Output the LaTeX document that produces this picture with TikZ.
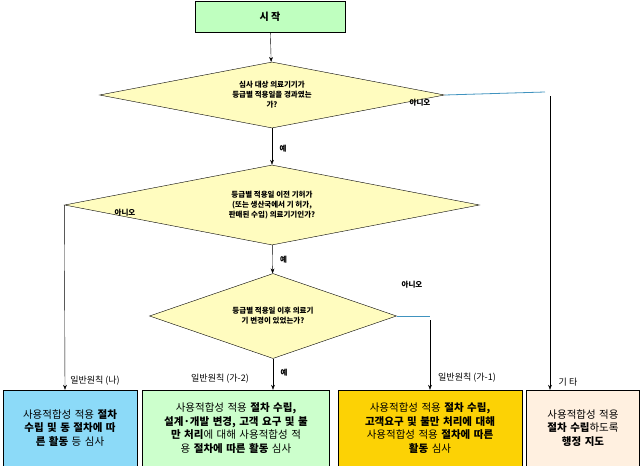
\documentclass[tikz,border=0pt]{standalone}
\usepackage{fontspec}
\setmainfont{Noto Sans CJK KR}
\usetikzlibrary{shapes.geometric,arrows.meta}
\begin{document}
\begin{tikzpicture}[x=1pt,y=-1pt,
    decision/.style={diamond,draw,fill=yellow!25,aspect=2.8,inner sep=1pt,
      align=center,font=\bfseries\fontsize{7.5}{10}\selectfont},
    result/.style={draw,minimum height=76pt,inner sep=2pt,align=center,
      font=\fontsize{10.5}{13.5}\selectfont},
    line/.style={draw,-{Stealth[length=5pt]}},
    branch/.style={draw,blue!35!cyan!50!gray,thick},
    lbl/.style={font=\fontsize{7.5}{9}\selectfont},
    tag/.style={font=\fontsize{9}{11}\selectfont}]
    % 배경
    \useasboundingbox (0,0) rectangle (643,466);
    % 시작
    \node[draw,fill=green!25,minimum width=150pt,minimum height=31pt,
      font=\bfseries\fontsize{10}{12}\selectfont] (start) at (270,17) {시 작};
    % 판단
    \node[decision,minimum width=345pt,minimum height=66pt] (q1) at (272,95)
      {심사 대상 의료기기가\\등급별 적용일을 경과였는\\가?};
    \node[decision,minimum width=415pt,minimum height=80pt] (q2) at (272,205)
      {등급별 적용일 이전 기허가\\(또는 생산국에서 기 허가,\\판매된 수입) 의료기기인가?};
    \node[decision,minimum width=247pt,minimum height=85pt] (q3) at (273,316)
      {등급별 적용일 이후 의료기\\기 변경이 있었는가?};
    % 결과
    \node[result,fill=cyan!45,text width=130pt] (rNa) at (70,428)
      {사용적합성 적용 \textbf{절차}\\\textbf{수립 및 동 절차에 따}\\\textbf{른 활동} 등 심사};
    \node[result,fill=green!20,text width=183pt] (rGa2) at (236,428)
      {사용적합성 적용 \textbf{절차 수립,}\\\textbf{설계·개발 변경, 고객 요구 및 불}\\\textbf{만 처리}에 대해 사용적합성 적\\용 \textbf{절차에 따른 활동} 심사};
    \node[result,fill=yellow!70!orange,text width=180pt] (rGa1) at (430,428)
      {사용적합성 적용 \textbf{절차 수립,}\\\textbf{고객요구 및 불만 처리에 대해}\\사용적합성 적용 \textbf{절차에 따른}\\\textbf{활동} 심사};
    \node[result,fill=orange!12,text width=109pt] (rEtc) at (583,428)
      {사용적합성 적용\\\textbf{절차 수립}하도록\\\textbf{행정 지도}};
    \coordinate (c1) at (545,92);
    \coordinate (d1) at (550,96);
    \coordinate (c2) at (65,205);
    \coordinate (c3) at (430,316);
    \coordinate (d3) at (430,320);
    % 연결선
    \draw[line] (start) -- (q1);
    \draw[line] (q1) -- node[lbl,right=4pt,pos=0.55] {\textbf{예}} (q2);
    \draw[line] (q2) -- node[lbl,right=4pt] {\textbf{예}} (q3);
    \draw[line] (q3) -- node[lbl,right=4pt,pos=0.45] {\textbf{예}} (rGa2.north -| q3);
    \draw[branch] (q1.east) -- (c1);
    \draw[line] (d1) -- (rEtc.north -| d1);
    \draw[line] (q2.west) -- (rNa.north -| c2);
    \draw[branch] (q3.east) -- (c3);
    \draw[line] (d3) -- (rGa1.north -| d3);
    % 라벨
    \node[lbl] at (420,103) {\textbf{아니오}};
    \node[lbl] at (125,213) {\textbf{아니오}};
    \node[lbl] at (412,285) {\textbf{아니오}};
    \node[tag] at (95,381) {일반원칙 (나)};
    \node[tag] at (220,379) {일반원칙 (가-2)};
    \node[tag] at (467,378) {일반원칙 (가-1)};
    \node[tag] at (568,382) {기 타};
\end{tikzpicture}
\end{document}
